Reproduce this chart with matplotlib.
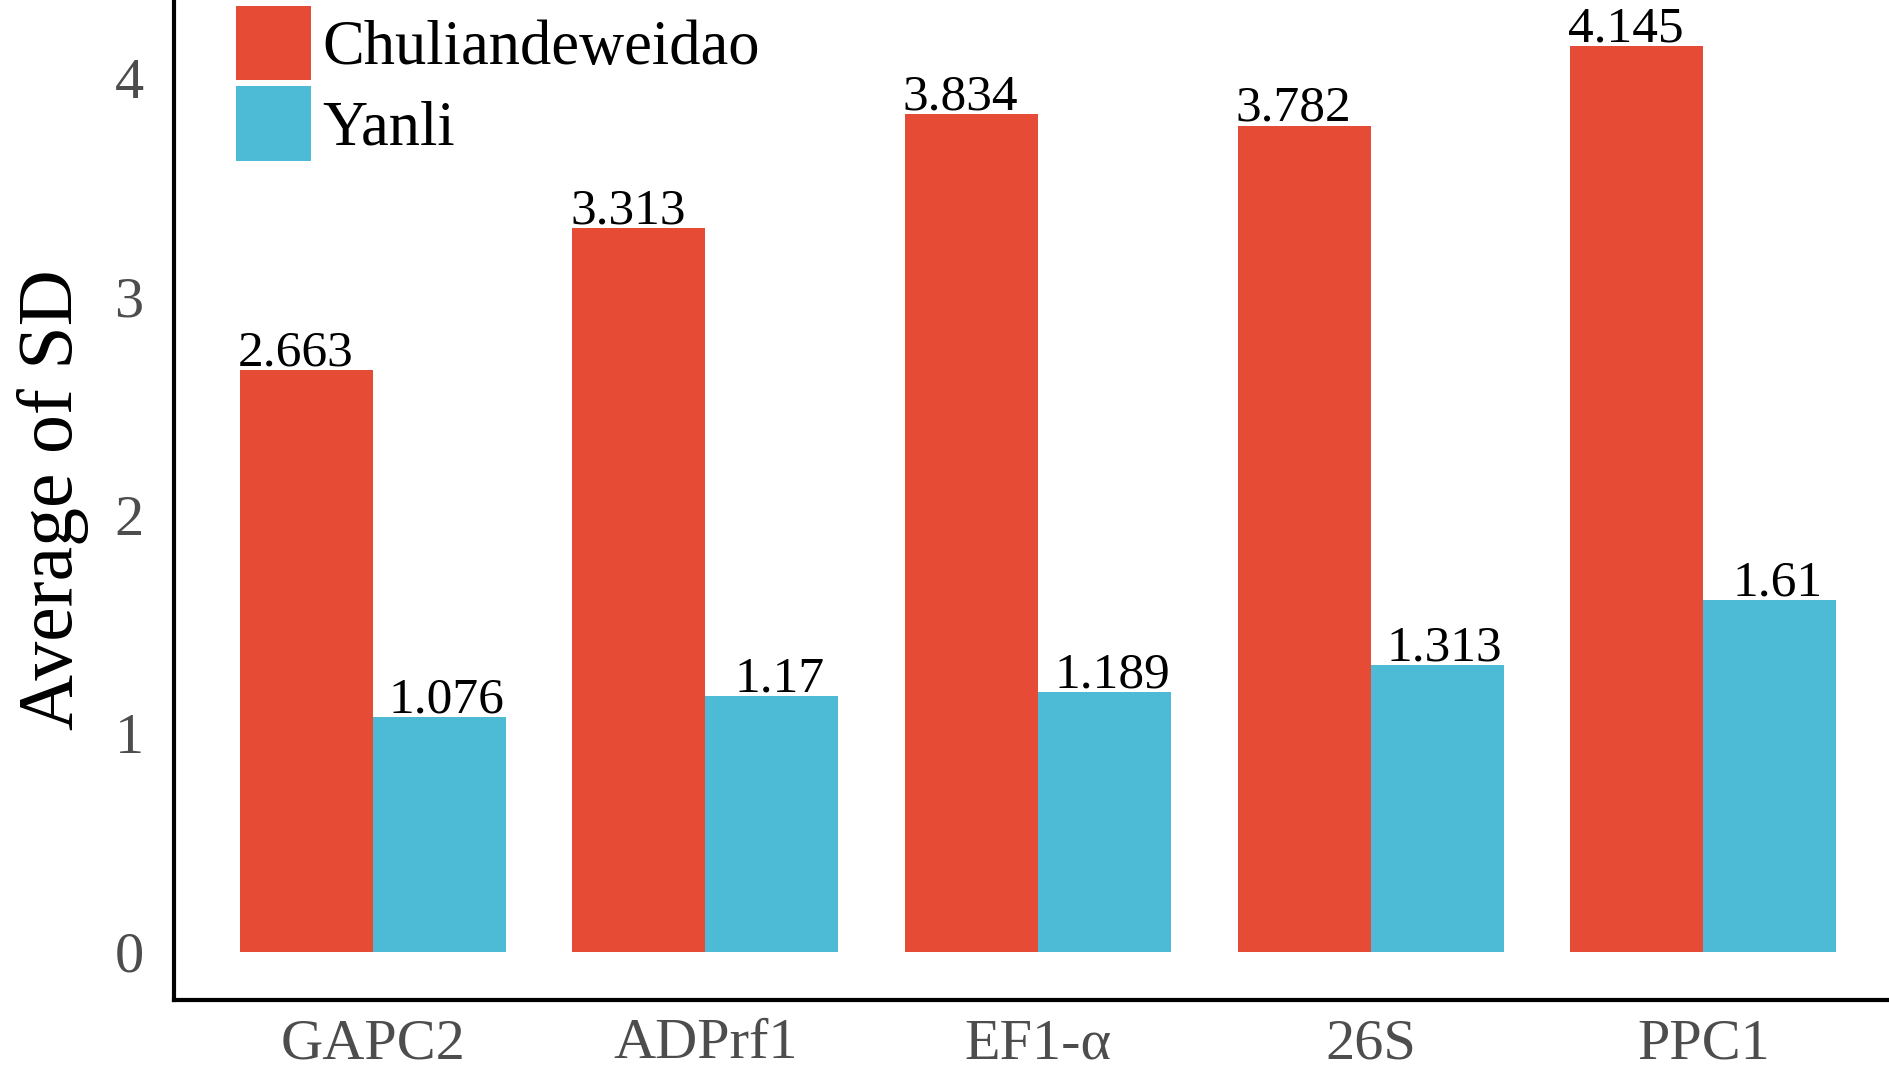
import numpy as np
import matplotlib
matplotlib.use("Agg")
import matplotlib.pyplot as plt

genes = ["GAPC2", "ADPrf1", "EF1-\u03b1", "26S", "PPC1"]
chuliandeweidao = [2.663, 3.313, 3.834, 3.782, 4.145]
yanli = [1.076, 1.17, 1.189, 1.313, 1.61]
red_labels = ["2.663", "3.313", "3.834", "3.782", "4.145"]
blue_labels = ["1.076", "1.17", "1.189", "1.313", "1.61"]

RED = "#E64B35"
BLUE = "#4DBBD5"

plt.rcParams['font.family'] = ['Liberation Serif', 'DejaVu Serif']

fig = plt.figure(figsize=(18.9, 10.68), dpi=100)
ax = fig.add_axes([0.0921, 0.0637, 1 - 0.0921, 0.9363])

x = np.arange(len(genes))
w = 0.4
ax.bar(x - w / 2, chuliandeweidao, width=w, color=RED, label="Chuliandeweidao")
ax.bar(x + w / 2, yanli, width=w, color=BLUE, label="Yanli")

# value labels above the bars
for xi, v, s in zip(x, chuliandeweidao, red_labels):
    ax.text(xi - w / 2 - 0.033, v + 0.022, s, ha='center', va='baseline',
            fontsize=37, color='black')
for xi, v, s in zip(x, yanli, blue_labels):
    ax.text(xi + w / 2 + 0.022, v + 0.022, s, ha='center', va='baseline',
            fontsize=37, color='black')

ax.set_xlim(-0.597, 4.561)
ax.set_ylim(-0.22, 4.357)
ax.set_xticks(x)
ax.set_xticklabels(genes)
ax.set_yticks([0, 1, 2, 3, 4])
ax.tick_params(axis='both', length=0, labelsize=42, colors='#4D4D4D')
ax.tick_params(axis='x', pad=13)
ax.tick_params(axis='y', pad=22)
ax.set_ylabel("Average of SD", fontsize=56, labelpad=18)

for side in ['top', 'right']:
    ax.spines[side].set_visible(False)
for side in ['left', 'bottom']:
    ax.spines[side].set_linewidth(3)
    ax.spines[side].set_color('black')

ax.legend(loc='upper left', bbox_to_anchor=(236 / 1890, 1 - 6 / 1068),
          bbox_transform=fig.transFigure, frameon=False, fontsize=45,
          handlelength=1.2, handleheight=1.45, labelspacing=0.1,
          handletextpad=0.18, borderpad=0, borderaxespad=0)

fig.savefig("out.png", dpi=100)
